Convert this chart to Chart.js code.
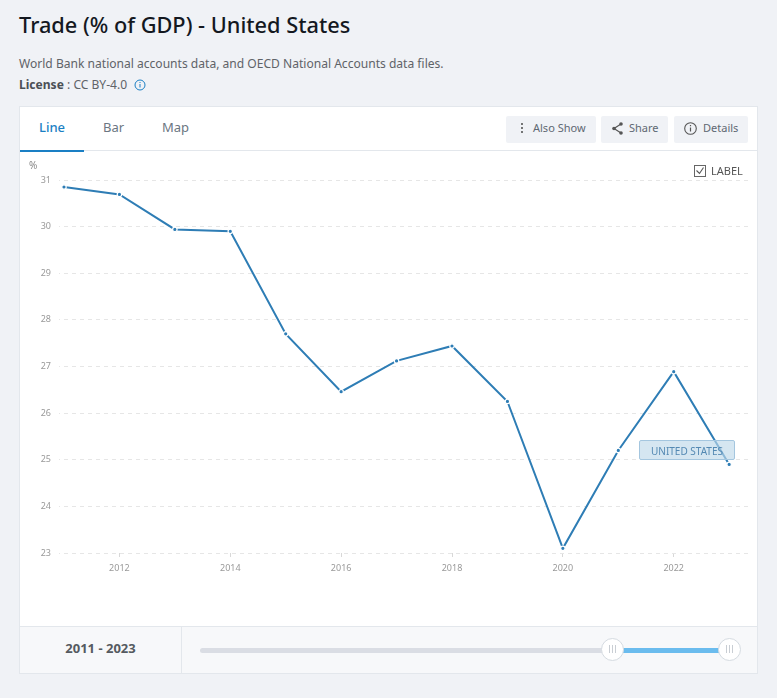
<!DOCTYPE html>
<html>
<head>
<meta charset="utf-8">
<title>Trade (% of GDP) - United States</title>
<script src="https://cdn.jsdelivr.net/npm/chart.js@4"></script>
<style>
  html, body { margin: 0; padding: 0; }
  body { width: 777px; height: 698px; background: #f0f2f6; font-family: "Noto Sans", sans-serif; position: relative; overflow: hidden; }
  .abs { position: absolute; white-space: nowrap; }
  #title { left: 19px; top: 9px; font-size: 21.75px; font-weight: 500; line-height: 32px; color: #14181f; }
  #source { left: 19px; top: 55px; font-size: 12.07px; line-height: 18px; color: #5f6368; }
  #license { left: 19px; top: 76px; font-size: 12.07px; line-height: 18px; color: #5f6368; }
  #license b { font-weight: 700; color: #4a4f55; }
  #card { left: 19px; top: 106px; width: 737px; height: 566px; background: #fff; border: 1px solid #e3e7ec; }
  #tabline { left: 20px; top: 150px; width: 737px; height: 1px; background: #e3e7ec; }
  .tab { top: 118px; font-size: 13px; line-height: 18px; color: #6b7682; }
  #tabon { left: 20px; top: 150px; width: 64px; height: 2px; background: #1a7fc4; }
  .btn { top: 116px; height: 27px; background: #f0f2f6; border-radius: 2px; font-size: 11px; line-height: 23px; color: #5f6873; box-sizing: border-box; }
  .btn svg { position: absolute; top: 0; left: 0; }
  .btn span { position: absolute; top: 0; }
  #chart { position: absolute; left: 20px; top: 151px; }
  #unit { left: 29px; top: 159px; font-size: 10px; line-height: 12px; color: #888; }
  #labelbox { left: 694px; top: 165px; width: 10px; height: 10px; border: 1px solid #666; }
  #labeltext { left: 711px; top: 163px; font-size: 11px; line-height: 15px; color: #555; }
  #tag { left: 639px; top: 440px; width: 94px; height: 18px; background: rgba(190, 216, 234, 0.65); border: 1px solid #a4c6df; border-radius: 2px; font-size: 10px; line-height: 20px; text-align: center; color: #5489b3; }
  #footer { left: 20px; top: 626px; width: 737px; height: 46px; background: #f7f8fa; border-top: 1px solid #e3e7ec; }
  #range { left: 20px; top: 639px; width: 161px; text-align: center; font-size: 13px; font-weight: 700; line-height: 19px; color: #555a60; }
  #divider { left: 181px; top: 627px; width: 1px; height: 46px; background: #e3e7ec; }
  #track { left: 200px; top: 648px; width: 413px; height: 5px; background: #dadde4; border-radius: 3px; }
  #active { left: 613px; top: 648px; width: 117px; height: 5px; background: #6bbcee; }
  .handle { top: 638px; width: 21px; height: 21px; border: 1px solid #d5dbe1; border-radius: 50%; background: #fff; }
  .handle i { position: absolute; top: 6px; width: 1px; height: 8px; background: #c9ced4; }
</style>
</head>
<body>
<div class="abs" id="title">Trade (% of GDP) - United States</div>
<div class="abs" id="source">World Bank national accounts data, and OECD National Accounts data files.</div>
<div class="abs" id="license"><b>License</b> : CC BY-4.0</div>
<svg class="abs" style="left:133px;top:79px" width="14" height="14" viewBox="0 0 14 14">
  <circle cx="7" cy="6" r="5" fill="none" stroke="#1a7fc4"/>
  <path d="M7 5v3.500M7 3v1" stroke="#1a7fc4" fill="none"/>
</svg>

<div class="abs" id="card"></div>
<div class="abs" id="tabline"></div>
<div class="abs tab" style="left:39px;color:#1a7fc4;font-weight:500">Line</div>
<div class="abs tab" style="left:103px">Bar</div>
<div class="abs tab" style="left:162px">Map</div>
<div class="abs" id="tabon"></div>

<div class="abs btn" style="left:506px;width:90px">
  <svg width="30" height="27"><path d="M16 8v2M16 12v2M16 16v2" stroke="#555" stroke-width="1.6" fill="none" transform="translate(0,-1)"/></svg>
  <span style="left:27px">Also Show</span>
</div>
<div class="abs btn" style="left:601px;width:67px">
  <svg width="30" height="27"><path d="M20 8l-7 4.500 7 4.500" stroke="#555" stroke-width="1.2" fill="none"/><circle cx="20" cy="8" r="1.8" fill="#555"/><circle cx="13" cy="12.5" r="1.8" fill="#555"/><circle cx="20" cy="17" r="1.8" fill="#555"/></svg>
  <span style="left:28px">Share</span>
</div>
<div class="abs btn" style="left:674px;width:74px">
  <svg width="30" height="27"><circle cx="16.500" cy="12.500" r="5.800" stroke="#555" stroke-width="1.100" fill="none"/><path d="M16.500 11.500v4M16.500 9v1.300" stroke="#555" stroke-width="1.200" fill="none"/></svg>
  <span style="left:29px">Details</span>
</div>

<canvas id="chart" width="737" height="476"></canvas>
<div class="abs" id="unit">%</div>
<div class="abs" id="labelbox"></div>
<svg class="abs" style="left:694px;top:165px" width="12" height="12"><path d="M2.500 5.500l3 3 4-6" stroke="#555" stroke-width="1.100" fill="none"/></svg>
<div class="abs" id="labeltext">LABEL</div>
<div class="abs" id="tag">UNITED STATES</div>

<div class="abs" id="footer"></div>
<div class="abs" id="range">2011 - 2023</div>
<div class="abs" id="divider"></div>
<div class="abs" id="track"></div>
<div class="abs" id="active"></div>
<div class="abs handle" style="left:601px"><i style="left:7px"></i><i style="left:10px"></i><i style="left:13px"></i></div>
<div class="abs handle" style="left:718px"><i style="left:7px"></i><i style="left:10px"></i><i style="left:13px"></i></div>

<script>
  const years = [2011, 2012, 2013, 2014, 2015, 2016, 2017, 2018, 2019, 2020, 2021, 2022, 2023];
  const tradeShare = [30.85, 30.69, 29.94, 29.9, 27.7, 26.46, 27.12, 27.44, 26.25, 23.1, 25.2, 26.89, 24.9];
  const xTicks = [2012, 2014, 2016, 2018, 2020, 2022];
  const yTicks = [23, 24, 25, 26, 27, 28, 29, 30, 31];

  function drawTradeChart() {
    const ctx = document.getElementById('chart').getContext('2d');
    const tickFont = { family: '"Noto Sans", sans-serif', size: 9 };

    new Chart(ctx, {
      type: 'line',
      data: {
        datasets: [{
          label: 'United States',
          data: years.map((year, i) => ({ x: year, y: tradeShare[i] })),
          borderColor: '#2e7db5',
          borderWidth: 2,
          tension: 0,
          pointRadius: 2.2,
          pointBorderWidth: 1.2,
          pointBorderColor: '#ffffff',
          pointBackgroundColor: '#2e7db5'
        }]
      },
      options: {
        responsive: false,
        animation: false,
        layout: { padding: { top: 29, right: 9, left: 0, bottom: 0 } },
        plugins: { legend: { display: false }, tooltip: { enabled: false } },
        scales: {
          x: {
            type: 'linear',
            min: 2010.91,
            max: 2023.34,
            border: { display: false },
            grid: { drawOnChartArea: false, drawTicks: true, tickLength: 4, color: '#d8d8d8' },
            ticks: { color: '#999999', font: tickFont, padding: 6, maxRotation: 0, callback: v => String(v) },
            afterBuildTicks: axis => { axis.ticks = xTicks.map(v => ({ value: v })); },
            afterFit: axis => { axis.height = 74; }
          },
          y: {
            min: 23,
            max: 31,
            border: { display: false, dash: [4, 4], dashOffset: 3 },
            grid: { drawTicks: false, color: '#e6e6e6', lineWidth: 1 },
            ticks: { color: '#999999', font: tickFont, padding: 8 },
            afterBuildTicks: axis => { axis.ticks = yTicks.map(v => ({ value: v })); },
            afterFit: axis => { axis.width = 39; }
          }
        }
      }
    });
  }

  drawTradeChart();
</script>
</body>
</html>
